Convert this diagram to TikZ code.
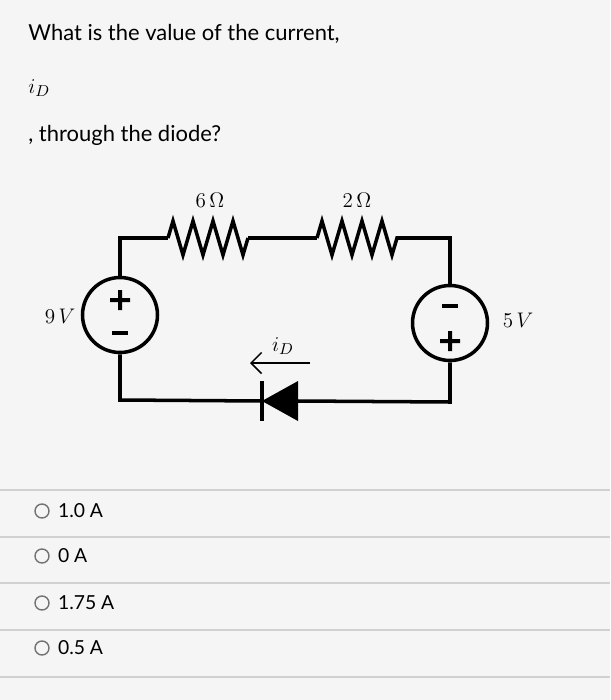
\documentclass[tikz,border=0pt]{standalone}
\usepackage{fontspec}
\setmainfont{Lato}
\usepackage{tikz}
\usetikzlibrary{positioning, arrows.meta}

\tikzset{
  wire/.style={line width=2pt, line join=miter},
  src/.style={circle, draw, line width=2pt, minimum size=1.5cm, inner sep=0pt},
  qtext/.style={anchor=west, inner sep=0pt, font=\fontsize{12.5}{15}\selectfont},
  opt/.style={anchor=west, inner sep=0pt, font=\fontsize{11}{13}\selectfont},
  val/.style={inner sep=0pt, font=\rmfamily\fontsize{13}{15}\selectfont},
  sep/.style={draw=black!18, line width=0.6pt},
}

\begin{document}
\begin{tikzpicture}[x=0.02cm, y=-0.02cm]
  \fill[black!4] (0,0) rectangle (610,700);
  \useasboundingbox (0,0) rectangle (610,700);

  % question
  \node[qtext] (q1) at (28,34) {What is the value of the current,};
  \node[qtext] (q2) at (28,88) {$i_D$};
  \node[qtext] (q3) at (28,135) {, through the diode?};

  % sources
  \node[src] (v9) at (120,315) {};
  \fill (110,298) rectangle (130,302) (118,290) rectangle (122,310);
  \fill (112,331) rectangle (128,335);
  \node[src] (v5) at (450,323) {};
  \fill (442,304) rectangle (458,308);
  \fill (440,339) rectangle (460,343) (448,331) rectangle (452,351);
  \node[val] (l9) at (60,316) {$9\,V$};
  \node[val] (l5) at (518,320) {$5\,V$};

  % corners
  \coordinate (tl) at (120,238);
  \coordinate (tr) at (450,238);
  \coordinate (bl) at (120,400);
  \coordinate (br) at (450,402);
  \coordinate (r1a) at (168,238);
  \coordinate (r1b) at (248,238);
  \coordinate (r2a) at (317,238);
  \coordinate (r2b) at (398,238);
  \coordinate (da) at (262,401);
  \coordinate (db) at (298,401);

  \draw[wire] (v9.north) -- (tl) -- (r1a);
  \draw[wire] (r1a) -- ++(5,-17) -- ++(10,34) -- ++(10,-34) -- ++(10,34) -- ++(10,-34)
     -- ++(10,34) -- ++(10,-34) -- ++(10,34) -- ++(5,-17) -- (r1b);
  \draw[wire] (r1b) -- (r2a);
  \draw[wire] (r2a) -- ++(5,-17) -- ++(10,34) -- ++(10,-34) -- ++(10,34) -- ++(10,-34)
     -- ++(10,34) -- ++(10,-34) -- ++(10,34) -- ++(5,-17) -- (r2b);
  \draw[wire] (r2b) -- (tr) -- (v5.north);
  \draw[wire] (v5.south) -- (br) -- (db);
  \fill (db) ++(0,-20) -- ++(0,40) -- (da) -- cycle;
  \draw[wire] (da) ++(0,-20) -- ++(0,40);
  \draw[wire] (da) -- (bl) -- (v9.south);

  \node[val] (r1l) at (210,200) {$6\,\Omega$};
  \node[val] (r2l) at (357,200) {$2\,\Omega$};
  \node[val] (id) at (283,346) {$i_D$};
  \coordinate (ia) at (310,363);
  \coordinate (ib) at (250,363);
  \draw[-{Straight Barb[length=6pt]}, line width=0.9pt] (ia) -- (ib);

  % answers
  \foreach \y in {490,537,583,630,677} \draw[sep] (0,\y) -- (610,\y);
  \foreach \y/\t in {511/1.0 A, 556/0 A, 603/1.75 A, 648/0.5 A} {
    \node[circle, draw=black!55, line width=0.8pt, minimum size=0.28cm, inner sep=0pt] (o\y) at (42,\y) {};
    \node[opt, right = 0.16cm of o\y] {\t};
  }
\end{tikzpicture}
\end{document}
